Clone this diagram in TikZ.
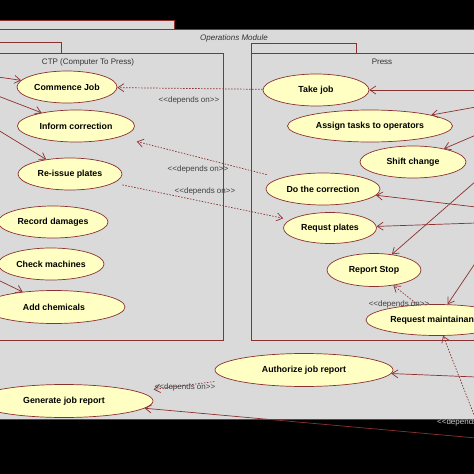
\documentclass[tikz,border=0pt]{standalone}
\usepackage{fontspec}
\setmainfont{Liberation Sans}[Ligatures=TeXOff]
\usetikzlibrary{arrows.meta,shapes.geometric}
\definecolor{ucfill}{RGB}{255,255,196}
\definecolor{ucline}{RGB}{140,48,48}
\definecolor{panegray}{RGB}{218,218,218}
\tikzset{%
  boxframe/.style = { draw=ucline, fill=panegray, line width=0.8pt },
  boxtitle/.style = { font=\fontsize{8}{9}\selectfont, text=black!80, inner sep=0pt },
  usecase/.style = { ellipse, draw=ucline, fill=ucfill, line width=0.7pt, inner sep=0pt, minimum height=32pt, font=\bfseries\fontsize{8.8}{10}\selectfont },
  assoc/.style = { ucline, line width=0.7pt, -{Straight Barb[length=6pt,width=8pt]} },
  dep/.style = { ucline, line width=0.7pt, dash pattern=on 1.5pt off 1.5pt, -{Straight Barb[length=6pt,width=8pt]} },
  deplabel/.style = { font=\fontsize{8}{9}\selectfont, text=black!75, inner sep=0pt }
}

\begin{document}
\begin{tikzpicture}[x=1pt,y=-1pt]

  \useasboundingbox (0,0) rectangle (474,474);
  \fill[black] (0,0) rectangle (474,474);

  % Operations Module
  \draw[boxframe] (-2,20) rectangle (174,29);
  \draw[boxframe] (-2,29) rectangle (476,419);
  \node[boxtitle,font=\itshape\fontsize{8}{9}\selectfont] (opmod) at (234,38) {Operations Module};

  % CTP
  \draw[boxframe] (-2,42) rectangle (61,53);
  \draw[boxframe] (-2,53) rectangle (223,340);
  \node[boxtitle] (ctp) at (88,62) {CTP (Computer To Press)};

  % Press
  \draw[boxframe] (251,43) rectangle (356,53);
  \draw[boxframe] (251,53) rectangle (476,340);
  \node[boxtitle] (press) at (382,62) {Press};

  % use cases, CTP
  \node[usecase,minimum width=100pt] (commence) at (67,87) {Commence Job};
  \node[usecase,minimum width=117pt] (inform) at (76,126) {Inform correction};
  \node[usecase,minimum width=104pt] (reissue) at (70,174) {Re-issue plates};
  \node[usecase,minimum width=110pt] (damages) at (53,222) {Record damages};
  \node[usecase,minimum width=106pt] (machines) at (51,264) {Check machines};
  \node[usecase,minimum width=142pt,minimum height=33pt] (chemicals) at (54,307) {Add chemicals};

  % use cases, Press
  \node[usecase,minimum width=106pt] (takejob) at (316,90) {Take job};
  \node[usecase,minimum width=165pt] (assign) at (370,126) {Assign tasks to operators};
  \node[usecase,minimum width=106pt] (shift) at (413,162) {Shift change};
  \node[usecase,minimum width=114pt] (correction) at (323,189) {Do the correction};
  \node[usecase,minimum width=93pt,minimum height=31pt] (plates) at (330,228) {Requst plates};
  \node[usecase,minimum width=94pt,minimum height=33pt] (stop) at (374,270) {Report Stop};
  \node[usecase,minimum width=142pt,minimum height=31pt] (maint) at (437,320) {Request maintainance};

  % use cases, module
  \node[usecase,minimum width=178pt,minimum height=33pt] (authorize) at (304,370) {Authorize job report};
  \node[usecase,minimum width=178pt,minimum height=33pt] (generate) at (64,401) {Generate job report};

  % actor ends
  \coordinate (lactA) at (-2,77);
  \coordinate (lactB) at (-2,96);
  \coordinate (lactC) at (-2,130);
  \coordinate (lactD) at (-2,280);
  \coordinate (ractA) at (476,90);
  \coordinate (ractB) at (476,107);
  \coordinate (ractC) at (476,135);
  \coordinate (ractD) at (476,181);
  \coordinate (ractE) at (476,207);
  \coordinate (ractF) at (476,223);
  \coordinate (ractG) at (476,262);
  \coordinate (ractH) at (476,377);
  \coordinate (ractI) at (476,438);
  \coordinate (depsrc) at (476,420);

  \foreach \a/\u in {lactA/commence,lactB/inform,lactC/reissue,lactD/chemicals,
                     ractA/takejob,ractB/assign,ractC/shift,ractD/stop,ractE/correction,
                     ractF/plates,ractG/maint,ractH/authorize,ractI/generate} {
    \draw[assoc] (\a) -- (\u);
  }

  % dependencies
  \draw[dep] (takejob) -- (commence);
  \draw[dep,shorten <=14pt,shorten >=18pt] (correction) -- (inform);
  \draw[dep,shorten <=9pt,shorten >=7pt] (reissue) -- (plates);
  \draw[dep] (maint) -- (stop);
  \draw[dep] (depsrc) -- (maint);
  \draw[dep,shorten <=16pt,shorten >=16pt] (authorize) -- (generate);

  \node[deplabel] (depA) at (189,100) {<<depends on>>};
  \node[deplabel] (depB) at (198,169) {<<depends on>>};
  \node[deplabel] (depC) at (205,191) {<<depends on>>};
  \node[deplabel] (depD) at (399,304) {<<depends on>>};
  \node[deplabel] (depE) at (185,387) {<<depends on>>};
  \node[deplabel,text=white!80!black,anchor=west] (depF) at (437,422) {<<depends on>>};

\end{tikzpicture}
\end{document}
